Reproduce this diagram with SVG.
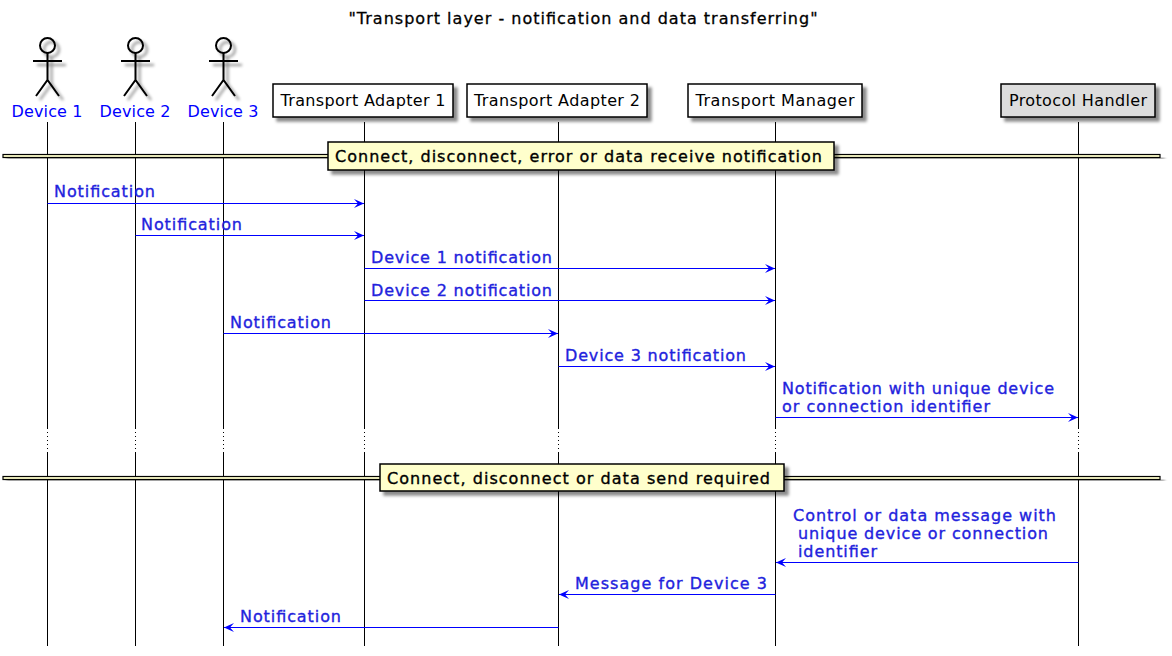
<svg xmlns="http://www.w3.org/2000/svg" width="1172" height="656" viewBox="0 0 1172 656">
<defs>
<filter id="sh" x="-20%" y="-20%" width="150%" height="160%">
<feGaussianBlur in="SourceAlpha" stdDeviation="1.8" result="b"/>
<feOffset in="b" dx="4" dy="4" result="o"/>
<feColorMatrix in="o" type="matrix" values="0 0 0 0 0  0 0 0 0 0  0 0 0 0 0  0 0 0 0.45 0" result="c"/>
<feMerge><feMergeNode in="c"/><feMergeNode in="SourceGraphic"/></feMerge>
</filter>
<marker id="ah" markerWidth="12" markerHeight="10" refX="10" refY="5" orient="auto-start-reverse" markerUnits="userSpaceOnUse">
<polygon points="10,5 0,0.5 4,5 0,9.5" fill="#0000FF"/>
</marker>
</defs>
<style>
text{font-family:"DejaVu Sans","Liberation Sans",sans-serif}
.title{font-size:16px;fill:#000;stroke:#000;stroke-width:0.3}
.plabel{font-size:16px;fill:#000}
.alabel{font-size:16px;fill:#0000FF}
.msg{font-size:16px;fill:#2222DD;stroke:#2222DD;stroke-width:0.35}
.div{font-size:16px;fill:#000;stroke:#000;stroke-width:0.35}
.life{stroke:#000;stroke-width:1;fill:none}
.dot{stroke:#000;stroke-width:1;fill:none;stroke-dasharray:1,3}
.box{fill:#FFFFFF;stroke:#000;stroke-width:1.5}
.arrow{stroke:#0000FF;stroke-width:1;fill:none;marker-end:url(#ah)}
.actor{stroke:#000;stroke-width:2;fill:none}
.sep{fill:#FFFFCC;stroke:#000;stroke-width:1.2}
</style>
<rect width="1172" height="656" fill="#FFFFFF"/>
<text class="title" x="583" y="24" text-anchor="middle" textLength="469" lengthAdjust="spacing">"Transport layer - notification and data transferring"</text>

<g id="lifelines">
<path class="life" d="M47.5,122V428M47.5,452V646M135.5,122V428M135.5,452V646M223.5,122V428M223.5,452V646M364.5,122V428M364.5,452V646M558.5,122V428M558.5,452V646M775.5,122V428M775.5,452V646M1078.5,122V428M1078.5,452V646"/>
<path class="dot" d="M47.5,428V452M135.5,428V452M223.5,428V452M364.5,428V452M558.5,428V452M775.5,428V452M1078.5,428V452"/>
</g>

<g id="device1">
<g filter="url(#sh)">
<circle class="actor" cx="47.5" cy="45.5" r="7.5" fill="#FFFFFF"/>
<path class="actor" d="M47.5,53V80M33,61H62M36,96L47.5,80L59,96"/>
</g>
<text class="alabel" x="47" y="117" text-anchor="middle" textLength="71" lengthAdjust="spacing">Device 1</text>
</g>
<g id="device2">
<g filter="url(#sh)">
<circle class="actor" cx="135.5" cy="45.5" r="7.5" fill="#FFFFFF"/>
<path class="actor" d="M135.5,53V80M121,61H150M124,96L135.5,80L147,96"/>
</g>
<text class="alabel" x="135" y="117" text-anchor="middle" textLength="71" lengthAdjust="spacing">Device 2</text>
</g>
<g id="device3">
<g filter="url(#sh)">
<circle class="actor" cx="223.5" cy="45.5" r="7.5" fill="#FFFFFF"/>
<path class="actor" d="M223.5,53V80M209,61H238M212,96L223.5,80L235,96"/>
</g>
<text class="alabel" x="223" y="117" text-anchor="middle" textLength="71" lengthAdjust="spacing">Device 3</text>
</g>

<g id="ta1">
<rect class="box" x="273" y="84" width="180" height="33" filter="url(#sh)"/>
<text class="plabel" x="363" y="106" text-anchor="middle" textLength="165" lengthAdjust="spacing">Transport Adapter 1</text>
</g>
<g id="ta2">
<rect class="box" x="467" y="84" width="180" height="33" filter="url(#sh)"/>
<text class="plabel" x="557" y="106" text-anchor="middle" textLength="166" lengthAdjust="spacing">Transport Adapter 2</text>
</g>
<g id="tm">
<rect class="box" x="688" y="84" width="174" height="33" filter="url(#sh)"/>
<text class="plabel" x="775" y="106" text-anchor="middle" textLength="159" lengthAdjust="spacing">Transport Manager</text>
</g>
<g id="ph">
<rect class="box" x="1001" y="84" width="154" height="33" style="fill:#DDDDDD" filter="url(#sh)"/>
<text class="plabel" x="1078" y="106" text-anchor="middle" textLength="138" lengthAdjust="spacing">Protocol Handler</text>
</g>

<g id="divider1">
<rect class="sep" x="3" y="154.5" width="1157" height="3" filter="url(#sh)"/>
<rect class="sep" x="328" y="142" width="506" height="28" filter="url(#sh)" style="stroke-width:1.5"/>
<text class="div" x="335" y="162" textLength="487" lengthAdjust="spacing">Connect, disconnect, error or data receive notification</text>
</g>
<g id="divider2">
<rect class="sep" x="3" y="476.5" width="1157" height="3" filter="url(#sh)"/>
<rect class="sep" x="380" y="464" width="404" height="27" filter="url(#sh)" style="stroke-width:1.5"/>
<text class="div" x="387" y="484" textLength="383" lengthAdjust="spacing">Connect, disconnect or data send required</text>
</g>

<g id="connectors">
<line class="arrow" x1="47.5" y1="203.5" x2="364" y2="203.5"/>
<line class="arrow" x1="135.5" y1="235.5" x2="364" y2="235.5"/>
<line class="arrow" x1="364.5" y1="268.5" x2="775" y2="268.5"/>
<line class="arrow" x1="364.5" y1="300.5" x2="775" y2="300.5"/>
<line class="arrow" x1="223.5" y1="333.5" x2="558" y2="333.5"/>
<line class="arrow" x1="558.5" y1="366.5" x2="775" y2="366.5"/>
<line class="arrow" x1="775.5" y1="417.5" x2="1078" y2="417.5"/>
<line class="arrow" x1="1078.5" y1="562.5" x2="776" y2="562.5"/>
<line class="arrow" x1="775.5" y1="594.5" x2="559" y2="594.5"/>
<line class="arrow" x1="558.5" y1="627.5" x2="224" y2="627.5"/>
<text class="msg" x="54" y="197" textLength="101" lengthAdjust="spacing">Notification</text>
<text class="msg" x="141" y="230" textLength="101" lengthAdjust="spacing">Notification</text>
<text class="msg" x="371" y="263" textLength="181" lengthAdjust="spacing">Device 1 notification</text>
<text class="msg" x="371" y="296" textLength="181" lengthAdjust="spacing">Device 2 notification</text>
<text class="msg" x="230" y="328" textLength="101" lengthAdjust="spacing">Notification</text>
<text class="msg" x="565" y="361" textLength="181" lengthAdjust="spacing">Device 3 notification</text>
<text class="msg" x="782" y="394" textLength="272" lengthAdjust="spacing">Notification with unique device</text>
<text class="msg" x="782" y="412" textLength="208" lengthAdjust="spacing">or connection identifier</text>
<text class="msg" x="793" y="521" textLength="263" lengthAdjust="spacing">Control or data message with</text>
<text class="msg" x="798" y="539" textLength="250" lengthAdjust="spacing">unique device or connection</text>
<text class="msg" x="798" y="557" textLength="79" lengthAdjust="spacing">identifier</text>
<text class="msg" x="575" y="589" textLength="192" lengthAdjust="spacing">Message for Device 3</text>
<text class="msg" x="240" y="622" textLength="101" lengthAdjust="spacing">Notification</text>
</g>
</svg>
